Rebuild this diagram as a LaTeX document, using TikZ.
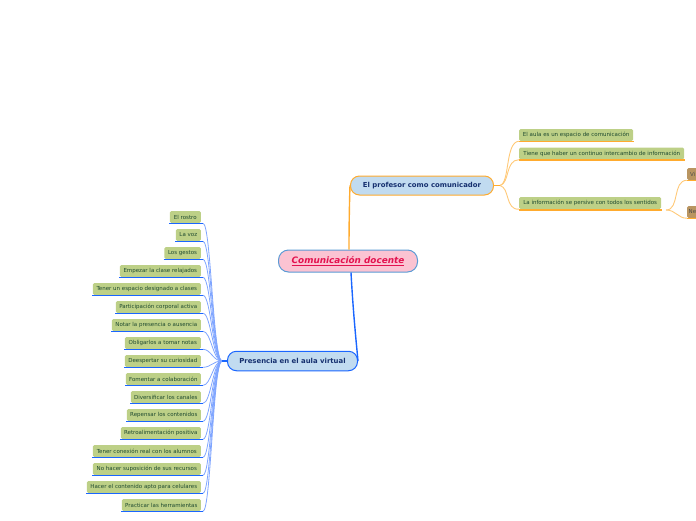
\documentclass[tikz,border=0pt]{standalone}
\usepackage{fontspec}
\setmainfont{DejaVu Sans}
\definecolor{leaf}{HTML}{BDD087}
\definecolor{leaftext}{HTML}{1F4A30}
\definecolor{small}{HTML}{B99561}
\definecolor{strongblue}{HTML}{1A66FF}
\definecolor{lbl}{HTML}{7FA5FF}
\definecolor{org}{HTML}{FFAB2E}
\definecolor{lorg}{HTML}{FFC978}
\definecolor{mainfill}{HTML}{FBC3D2}
\definecolor{mainline}{HTML}{5B9BD5}
\definecolor{subfill}{HTML}{C1DBF0}
\definecolor{navy}{HTML}{16306F}
\definecolor{hot}{HTML}{E3124F}
\newcommand{\lowertext}[1]{\raisebox{-0.7pt}{#1}}
\tikzset{
 leafbox/.style={fill=leaf,rounded corners=1.5pt,minimum height=12pt,inner sep=0pt,font=\fontsize{5.5}{6}\selectfont,text=leaftext},
 smallbox/.style={leafbox,fill=small,text=black!70,minimum width=20pt,text width=20pt,anchor=west,align=left},
 subbox/.style={rounded corners=9pt,fill=subfill,line width=1pt,inner sep=0pt,font=\fontsize{6.9}{8}\bfseries\selectfont,text=navy},
 twig/.style={draw=lbl,line width=.8pt},
 otwig/.style={draw=lorg,line width=.9pt},
 bline/.style={draw=strongblue,line width=1.3pt},
 oline/.style={draw=org,line width=1.1pt},
}
\begin{document}
\begin{tikzpicture}[x=1pt,y=-1pt]
\useasboundingbox (0,0) rectangle (696,520);
\clip (0,0) rectangle (696,520);
% hubs
\coordinate (bh) at (222,361);
\coordinate (oh) at (500,185.5);
\coordinate (oh2) at (666,210);
% left leaves
\foreach \nm/\lf/\yy/\txt in {
 a/170/217/El rostro, b/176/235/La voz, c/164.5/253/Los gestos,
 d/120/271/Empezar la clase relajados, e/93/289/Tener un espacio designado a clases,
 f/116/307/Participación corporal activa, g/112/325/Notar la presencia o ausencia,
 h/125/343/Obligarlos a tomar notas, i/125/361/Deespertar su curiosidad,
 j/126/379/Fomentar a colaboración, k/131/397/Diversificar los canales,
 l/127/415/Repensar los contenidos, m/121/433/Retroalimentación positiva,
 n/93/451/Tener conexión real con los alumnos, o/93/469/No hacer suposición de sus recursos,
 p/87/487/Hacer el contenido apto para celulares, q/122/505/Practicar las herramientas}{
 \pgfmathsetmacro{\wdt}{201-\lf}
 \node[leafbox,minimum width=\wdt pt,anchor=east] (\nm) at (201,\yy) {\lowertext{\txt}};
 \draw[twig] (203,\yy+6.3) .. controls (211,\yy+6.3) and (213,361) .. (bh);
 \draw[bline] (\lf-1,\yy+6.3) -- (203,\yy+6.3);
}
% right leaves
\node[leafbox,minimum width=114pt,anchor=west] (r1) at (519,135) {\lowertext{El aula es un espacio de comunicación}};
\node[leafbox,minimum width=165pt,anchor=west] (r2) at (519,153.5) {\lowertext{Tiene que haber un continuo intercambio de información}};
\node[leafbox,minimum width=142pt,anchor=west] (r3) at (519,203) {\lowertext{La información se persive con todos los sentidos}};
\node[smallbox] (s1) at (687,174) {\hspace*{3pt}Vi};
\node[smallbox] (s2) at (687,212) {\hspace*{1.5pt}Ne};
\foreach \xa/\xb/\yy in {519/634/141.7,519/685/160,519/662/210}{\draw[oline] (\xa,\yy) -- (\xb,\yy);}
\foreach \yy in {180.5,218.5}{\draw[oline] (687,\yy) -- (696,\yy);}
\draw[otwig] (oh) .. controls (510,183) and (505,142) .. (r1.south west);
\draw[otwig] (oh) .. controls (510,183) and (505,160) .. (r2.south west);
\draw[otwig] (oh) .. controls (510,188) and (505,210) .. (r3.south west);
\draw[otwig] (oh2) .. controls (680,210) and (672,180.5) .. (s1.south west);
\draw[otwig] (oh2) .. controls (676,210) and (678,218.5) .. (s2.south west);
% sub nodes
\node[subbox,draw=org,minimum width=143pt,minimum height=19pt] (prof) at (422,185.5) {\lowertext{El profesor como comunicador}};
\node[subbox,draw=strongblue,minimum width=130pt,minimum height=19.5pt] (pres) at (292.5,361) {\lowertext{Presencia en el aula virtual}};
% main node
\node[draw=mainline,fill=mainfill,rounded corners=10pt,line width=1pt,minimum width=139pt,minimum height=22pt,inner sep=0pt,text=hot,font=\fontsize{8.85}{10}\bfseries\itshape\selectfont] (main) at (348,261) {\lowertext{\underline{Comunicación docente}}};
% main connectors
\draw[draw=org,line width=1.4pt] (main.north) ++(1,0) .. controls (349,225) and (349.5,200) .. (prof.west);
\draw[draw=strongblue,line width=1.4pt] (main.south) ++(3,0) .. controls (353,310) and (356,340) .. (pres.east);
\draw[draw=strongblue,line width=1.6pt] (bh) -- (pres.west);
\draw[draw=org,line width=1.2pt] (oh) -- (prof.east);
\end{tikzpicture}
\end{document}
